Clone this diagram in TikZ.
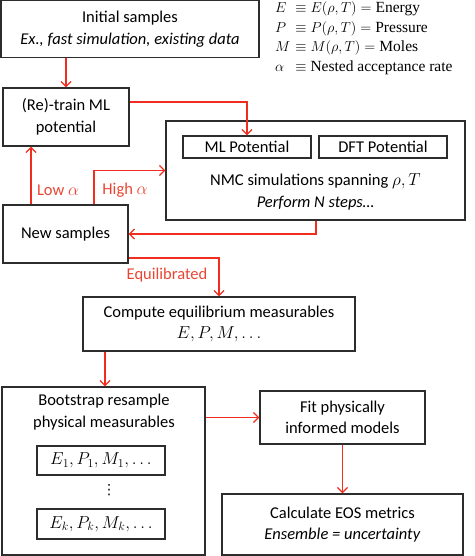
\documentclass[tikz,border=0pt]{standalone}
\usepackage{amsmath}
\usepackage{fontspec}
\setmainfont{Carlito}
\newfontfamily\legfont{Liberation Serif}
\newfontfamily\dvfont{DejaVu Sans}
\usetikzlibrary{arrows.meta}
\definecolor{arrred}{RGB}{240,45,30}
\definecolor{lblred}{RGB}{232,70,50}
\definecolor{boxgray}{RGB}{45,45,45}
\begin{document}
\begin{tikzpicture}[x=1pt,y=-1pt,
  every node/.style={font=\fontsize{16.5}{21.5}\selectfont},
  bx/.style={draw=boxgray,line width=1.2pt,rectangle,inner sep=0pt,align=center},
  arr/.style={draw=arrred,line width=1.3pt,-{Straight Barb[length=5pt,width=10pt,line width=1.3pt]}},
  lbl/.style={text=lblred}]
\useasboundingbox (0,0) rectangle (474,556);
% boxes
\node[bx,minimum width=258pt,minimum height=57pt] (init) at (130,29) {Initial samples\\\textit{Ex., fast simulation, existing data}};
\node[bx,minimum width=126pt,minimum height=58pt] (retrain) at (66,117) {(Re)-train ML\\potential};
\node[bx,minimum width=299pt,minimum height=99pt] (nmc) at (315.5,170.5) {};
\node[bx,minimum width=128pt,minimum height=22pt] (ml) at (247,147) {ML Potential};
\node[bx,minimum width=128pt,minimum height=22pt] (dft) at (383,147) {DFT Potential};
\node[align=center] (nmctext) at (315.5,192) {NMC simulations spanning $\rho,T$\\\textit{Perform N steps…}};
\node[bx,minimum width=125pt,minimum height=58pt] (newsamp) at (65.5,234) {New samples};
\node[bx,minimum width=272pt,minimum height=54pt] (compute) at (219,324) {Compute equilibrium measurables\\$E,P,M,\ldots$};
\node[bx,minimum width=203pt,minimum height=168pt] (boot) at (103.5,471) {};
\node[align=center] (boottext) at (104,412) {Bootstrap resample\\physical measurables};
\node[bx,minimum width=128pt,minimum height=29pt] (e1) at (101,460.5) {$E_1,P_1,M_1,\ldots$};
\node[font=\dvfont\fontsize{14}{16}\selectfont] (vd) at (109,490) {⋮};
\node[bx,minimum width=128pt,minimum height=30pt] (ek) at (101,524) {$E_k,P_k,M_k,\ldots$};
\node[bx,minimum width=165pt,minimum height=53pt] (fit) at (342.5,417.5) {Fit physically\\informed models};
\node[bx,minimum width=241pt,minimum height=61pt] (calc) at (342.5,524.5) {Calculate EOS metrics\\\textit{Ensemble = uncertainty}};
% legend
\node[anchor=north west,inner sep=0pt,font=\legfont\fontsize{15.5}{19.5}\selectfont] (leg) at (275,-1) {%
\begin{tabular}{@{}l@{\hspace{5pt}}l@{}}
$E$ & $\equiv E(\rho,T) = \text{Energy}$\\
$P$ & $\equiv P(\rho,T) = \text{Pressure}$\\
$M$ & $\equiv M(\rho,T) = \text{Moles}$\\
$\alpha$ & $\equiv \text{Nested acceptance rate}$
\end{tabular}};
% connectors
\draw[arr] (retrain.north |- init.south) -- (retrain.north);
\draw[arr] ([yshift=15pt]retrain.east) -| (ml.north);
\draw[arr] ([xshift=-34.5pt]newsamp.north) -- ([xshift=-34.5pt]newsamp.north |- retrain.south);
\draw[arr] ([xshift=28.5pt]newsamp.north) |- (nmc.west);
\draw[arr] ([xshift=0.5pt]nmc.south) |- (newsamp.east);
\draw[arr] ([yshift=-24pt]newsamp.east) -| (compute.north);
\draw[arr] ([xshift=-114pt]compute.south) -- ([xshift=-114pt]compute.south |- boot.north);
\draw[arr] (boot.east |- fit.west) -- (fit.west);
\draw[arr] (fit.south) -- (calc.north);
% labels
\node[lbl] (low) at (58,190) {Low $\alpha$};
\node[lbl] (high) at (125,190) {High $\alpha$};
\node[lbl] (eq) at (167,275) {Equilibrated};
\end{tikzpicture}
\end{document}
